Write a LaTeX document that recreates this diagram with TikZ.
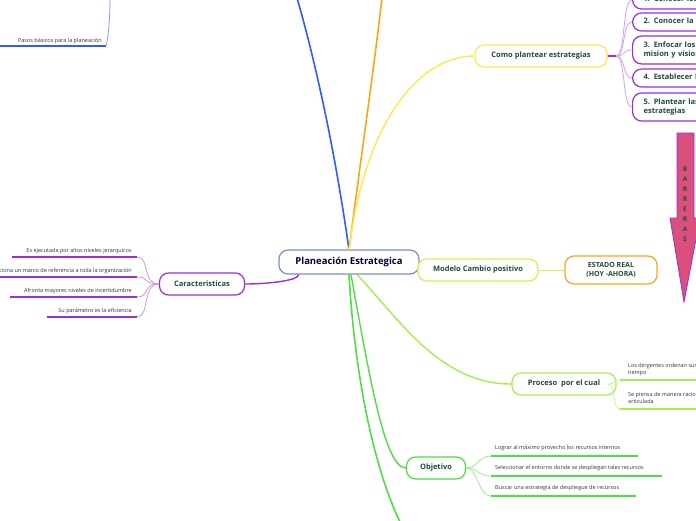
\documentclass[tikz,border=0pt]{standalone}
\usepackage{fontspec}
\setmainfont{Open Sans}
\definecolor{tx}{HTML}{1D4D3A}
\definecolor{cblue}{HTML}{2E5BFF}
\definecolor{corange}{HTML}{FFA31A}
\definecolor{cyellow}{HTML}{FFE84D}
\definecolor{cpurple}{HTML}{9B2CE0}
\definecolor{cmodel}{HTML}{D8F050}
\definecolor{cproc}{HTML}{A3F04A}
\definecolor{cobj}{HTML}{4CE040}
\definecolor{cpink}{HTML}{DB4F7C}
\tikzset{x=1pt,y=-1pt,
 topic/.style={draw,line width=1.2pt,rounded corners=9pt,fill=white,font=\bfseries\fontsize{7.5}{9}\selectfont,text=tx,align=center,inner sep=0pt},
 leaf/.style={font=\fontsize{5.5}{7}\selectfont,text=black!80,align=left,inner sep=0pt}}
\begin{document}
\begin{tikzpicture}
\useasboundingbox (0,0) rectangle (696,520);
\clip (0,0) rectangle (696,520);
% central
\node[topic,draw=cblue!70!black!60,minimum width=140pt,minimum height=24pt,font=\bfseries\fontsize{9.5}{11}\selectfont,text=black!80!blue] (c) at (349,262) {Planeación Estrategica};
\coordinate (ctop) at (349,250);
\coordinate (tb) at (297,-2);
\coordinate (to) at (382,-2);
\coordinate (tg) at (400,522);
\draw[cblue,line width=1.6pt] (ctop) .. controls (335,150) and (315,60) .. (tb);
\draw[corange,line width=1.6pt] (ctop) .. controls (362,150) and (375,60) .. (to);
\draw[cobj,line width=1.6pt] (c.south) .. controls (355,380) and (375,470) .. (tg);
% Pasos
\node[leaf,anchor=south east] (pb) at (102,44) {Pasos básicos para la planeación};
\coordinate (pbl) at (0,46);
\coordinate (pbr) at (106,46);
\coordinate (pbt) at (110,-2);
\draw[cblue,line width=1.2pt] (pbl) -- (pbr);
\draw[cblue!60,line width=0.8pt] (pbr) .. controls (108,40) and (110,20) .. (pbt);
% Como plantear
\node[topic,draw=cyellow,minimum width=132pt,minimum height=22pt] (cp) at (541,56) {Como plantear estrategias};
\draw[cyellow,line width=1.4pt] (ctop) .. controls (365,120) and (420,56) .. (cp.west);
\foreach \n/\y/\h/\t in {1/0/18/{1. Conocer los objetivos},2/22/18/{2. Conocer la situación},3/50/28/{3. Enfocar los objetivos a la\\mision y vision},4/78/18/{4. Establecer las metas},5/107/28/{5. Plantear las\\estrategias}}{
 \node[topic,draw=cpurple,anchor=west,text width=130pt,minimum height=\h pt,align=left] (p\n) at (632,\y) {\hspace*{11pt}\begin{tabular}{@{}l@{}}\t\end{tabular}\hfill};
 \draw[cpurple!45,line width=0.8pt] (cp.east) -- (616,56) .. controls (626,56) and (622,\y) .. (p\n.west);
}
\draw[cpurple,line width=1.2pt] (cp.east) -- (616,56);
% arrow
\draw[cpurple,fill=cpink,line width=0.8pt] (677,133) -- (694,133) -- (694,218) -- (700,218) -- (684,302) -- (670,218) -- (677,218) -- cycle;
\node[font=\bfseries\fontsize{6.5}{10}\selectfont,text=tx,align=center] (bt) at (685,204) {B\\A\\R\\R\\E\\R\\A\\S};
% Modelo
\node[topic,draw=cmodel,minimum width=120pt,minimum height=22pt] (mc) at (478,270) {Modelo Cambio positivo};
\draw[cmodel,line width=1.4pt] (c.east) -- (mc.west);
\node[topic,draw=corange,minimum width=92pt,minimum height=28pt,font=\bfseries\fontsize{7}{8.5}\selectfont] (er) at (611,270) {ESTADO REAL\\(HOY -AHORA)};
\draw[cmodel,line width=0.8pt] (mc.east) -- (er.west);
% Caracteristicas
\node[topic,draw=cpurple,minimum width=85pt,minimum height=22pt] (ca) at (202,284) {Caracteristicas};
\draw[cpurple,line width=1.4pt] (c.south west) ++(20,0) .. controls (300,280) and (270,284) .. (ca.east);
\foreach \n/\y/\x/\t in {1/252/12/{Es ejecutada por altos niveles jerarquicos},2/272/-30/{Proporciona un marco de referencia a toda la organización},3/292/10/{Afronta mayores niveles de incertidumbre},4/312/47/{Su parámetro es la eficiencia}}{
 \node[leaf,anchor=south east] (k\n) at (132,\y+2) {\t};
 \coordinate (kl\n) at (\x,\y+5);
 \coordinate (kr\n) at (137,\y+5);
 \draw[cpurple,line width=1.2pt] (kl\n) -- (kr\n);
 \draw[cpurple!50,line width=0.8pt] (kr\n) .. controls (150,\y+5) and (142,284) .. (ca.west);
}
% Proceso
\node[topic,draw=cproc,minimum width=104pt,minimum height=22pt] (pr) at (564,384) {Proceso \ por el cual};
\draw[cproc,line width=1.4pt] (c.south) ++(8,0) .. controls (400,320) and (440,384) .. (pr.west);
\node[leaf,anchor=west] (q1) at (628,370) {Los dirigentes ordenan sus\\tiempo};
\node[leaf,anchor=west] (q2) at (628,398) {Se piensa de manera racional\\articulada};
\coordinate (q1a) at (620,380); \coordinate (q1b) at (700,380);
\coordinate (q2a) at (620,409); \coordinate (q2b) at (700,409);
\draw[cproc,line width=1.2pt] (q1a) -- (q1b);
\draw[cproc,line width=1.2pt] (q2a) -- (q2b);
\draw[cproc!60,line width=0.8pt] (pr.east) -- (608,384) .. controls (616,384) and (612,380) .. (q1a);
\draw[cproc!60,line width=0.8pt] (608,384) .. controls (616,384) and (612,409) .. (q2a);
% Objetivo
\node[topic,draw=cobj,minimum width=59pt,minimum height=22pt] (ob) at (436,468) {Objetivo};
\draw[cobj,line width=1.4pt] (c.south) ++(2,0) .. controls (370,380) and (385,468) .. (ob.west);
\foreach \n/\y/\e/\t in {1/448/638/{Lograr al máximo provecho los recursos internos},2/468/662/{Seleccionar el entorno donde se despliegan tales recursos},3/488/636/{Buscar una estrategia de despliegue de recursos}}{
 \node[leaf,anchor=west] (o\n) at (495,\y) {\t};
 \coordinate (ol\n) at (491,\y+8);
 \coordinate (or\n) at (\e,\y+8);
 \draw[cobj,line width=1.2pt] (ol\n) -- (or\n);
 \draw[cobj!55,line width=0.8pt] (ob.east) .. controls (478,468) and (478,\y+8) .. (ol\n);
}
\end{tikzpicture}
\end{document}
